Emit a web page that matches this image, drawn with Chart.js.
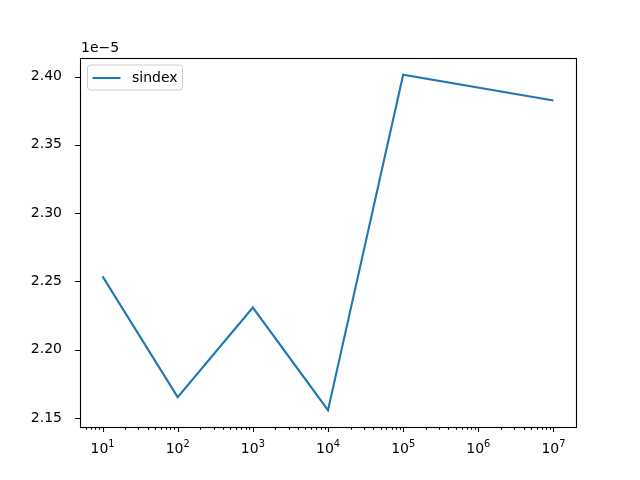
<!DOCTYPE html>
<html>
<head>
<meta charset="utf-8">
<script src="https://cdn.jsdelivr.net/npm/chart.js@4.4.0/dist/chart.umd.min.js"></script>
<style>
html,body{margin:0;padding:0;background:#fff;}
canvas{display:block;}
</style>
</head>
<body>
<canvas id="c" width="640" height="480"></canvas>
<script>
const seriesLabel = 'sindex';
const xValues = [10, 100, 1000, 10000, 100000, 10000000];
const yValues = [2.2536e-5, 2.1652e-5, 2.2308e-5, 2.1556e-5, 2.4013e-5, 2.3824e-5];
const xMajorTicks = [1e1, 1e2, 1e3, 1e4, 1e5, 1e6, 1e7];
const xTickBase = '10';
const xTickExponents = ['1', '2', '3', '4', '5', '6', '7'];
const yTickValues = [2.15e-5, 2.20e-5, 2.25e-5, 2.30e-5, 2.35e-5, 2.40e-5];
const yTickLabels = ['2.15', '2.20', '2.25', '2.30', '2.35', '2.40'];
const yOffsetLabel = '1e\u22125';

const FONT = '"DejaVu Sans", sans-serif';
const FS = 14;
const FS_SUP = 9.8;
const LINE_COLOR = '#1f77b4';

function niceLimits(vals, log) {
  let lo = Math.min(...vals), hi = Math.max(...vals);
  if (log) { lo = Math.log10(lo); hi = Math.log10(hi); }
  const m = (hi - lo) * 0.05;
  lo -= m; hi += m;
  if (log) { lo = Math.pow(10, lo); hi = Math.pow(10, hi); }
  return [lo, hi];
}
const [xMin, xMax] = niceLimits(xValues, true);
const [yMin, yMax] = niceLimits(yValues, false);

const decorPlugin = {
  id: 'decor',
  afterDraw(chart) {
    const ctx = chart.ctx;
    const a = chart.chartArea;
    const xs = chart.scales.x, ys = chart.scales.y;
    ctx.save();
    // spines
    ctx.strokeStyle = '#000';
    ctx.lineWidth = 1.1;
    ctx.strokeRect(Math.round(a.left) + 0.5, Math.round(a.top) + 0.5, Math.round(a.right - a.left), Math.round(a.bottom - a.top));
    // x ticks (major + minor)
    ctx.beginPath();
    const e0 = Math.floor(Math.log10(xs.min)), e1 = Math.ceil(Math.log10(xs.max));
    for (let e = e0; e <= e1; e++) {
      for (let k = 1; k <= 9; k++) {
        const v = k * Math.pow(10, e);
        if (v < xs.min || v > xs.max) continue;
        const px = Math.round(xs.getPixelForValue(v)) + 0.5;
        const len = k === 1 ? 4.9 : 2.8;
        ctx.moveTo(px, a.bottom);
        ctx.lineTo(px, a.bottom + len);
      }
    }
    // y ticks
    yTickValues.forEach(v => {
      const py = Math.round(ys.getPixelForValue(v)) + 0.5;
      ctx.moveTo(a.left, py);
      ctx.lineTo(a.left - 4.9, py);
    });
    ctx.stroke();
    // x tick labels: base with raised exponent
    ctx.fillStyle = '#000';
    ctx.textAlign = 'left';
    ctx.textBaseline = 'alphabetic';
    xMajorTicks.forEach((v, i) => {
      const px = xs.getPixelForValue(v);
      ctx.font = FS + 'px ' + FONT;
      const wb = ctx.measureText(xTickBase).width;
      ctx.font = FS_SUP + 'px ' + FONT;
      const we = ctx.measureText(xTickExponents[i]).width;
      const x0 = px - (wb + we) / 2;
      const base = a.bottom + 26;
      ctx.font = FS + 'px ' + FONT;
      ctx.fillText(xTickBase, x0, base);
      ctx.font = FS_SUP + 'px ' + FONT;
      ctx.fillText(xTickExponents[i], x0 + wb, base - 6);
    });
    // offset label
    ctx.font = FS + 'px ' + FONT;
    ctx.fillText(yOffsetLabel, a.left + 1, a.top - 6);
    // legend
    const lx = a.left + 7.5, ly = a.top + 7, lw = 95, lh = 25, r = 3;
    ctx.beginPath();
    ctx.moveTo(lx + r, ly);
    ctx.lineTo(lx + lw - r, ly);
    ctx.quadraticCurveTo(lx + lw, ly, lx + lw, ly + r);
    ctx.lineTo(lx + lw, ly + lh - r);
    ctx.quadraticCurveTo(lx + lw, ly + lh, lx + lw - r, ly + lh);
    ctx.lineTo(lx + r, ly + lh);
    ctx.quadraticCurveTo(lx, ly + lh, lx, ly + lh - r);
    ctx.lineTo(lx, ly + r);
    ctx.quadraticCurveTo(lx, ly, lx + r, ly);
    ctx.closePath();
    ctx.fillStyle = 'rgba(255,255,255,0.8)';
    ctx.fill();
    ctx.strokeStyle = '#cccccc';
    ctx.lineWidth = 1;
    ctx.stroke();
    const ds = chart.data.datasets[0];
    ctx.beginPath();
    ctx.strokeStyle = ds.borderColor;
    ctx.lineWidth = 2.1;
    ctx.moveTo(lx + 5, ly + lh / 2 + 0.5);
    ctx.lineTo(lx + 33, ly + lh / 2 + 0.5);
    ctx.stroke();
    ctx.fillStyle = '#000';
    ctx.textBaseline = 'middle';
    ctx.fillText(ds.label, lx + 44.5, ly + lh / 2 + 1);
    ctx.restore();
  }
};

new Chart(document.getElementById('c'), {
  type: 'line',
  data: {
    datasets: [{
      label: seriesLabel,
      data: xValues.map((x, i) => ({ x: x, y: yValues[i] })),
      borderColor: LINE_COLOR,
      backgroundColor: LINE_COLOR,
      borderWidth: 2.1,
      pointRadius: 0,
      tension: 0,
      fill: false
    }]
  },
  options: {
    responsive: false,
    animation: false,
    devicePixelRatio: 1,
    layout: { padding: { left: 0, top: 58, right: 64, bottom: 0 } },
    plugins: { legend: { display: false }, tooltip: { enabled: false } },
    scales: {
      x: {
        type: 'logarithmic',
        min: xMin, max: xMax,
        afterFit: s => { s.height = 53; },
        afterBuildTicks: s => { s.ticks = xMajorTicks.map(v => ({ value: v })); },
        grid: { display: false },
        border: { display: false },
        ticks: { display: false }
      },
      y: {
        type: 'linear',
        min: yMin, max: yMax,
        afterFit: s => { s.width = 80; },
        afterBuildTicks: s => { s.ticks = yTickValues.map(v => ({ value: v })); },
        grid: { display: false },
        border: { display: false },
        ticks: {
          padding: 10,
          color: '#000',
          font: { family: FONT, size: FS },
          callback: (v, i) => yTickLabels[i]
        }
      }
    }
  },
  plugins: [decorPlugin]
});
</script>
</body>
</html>
